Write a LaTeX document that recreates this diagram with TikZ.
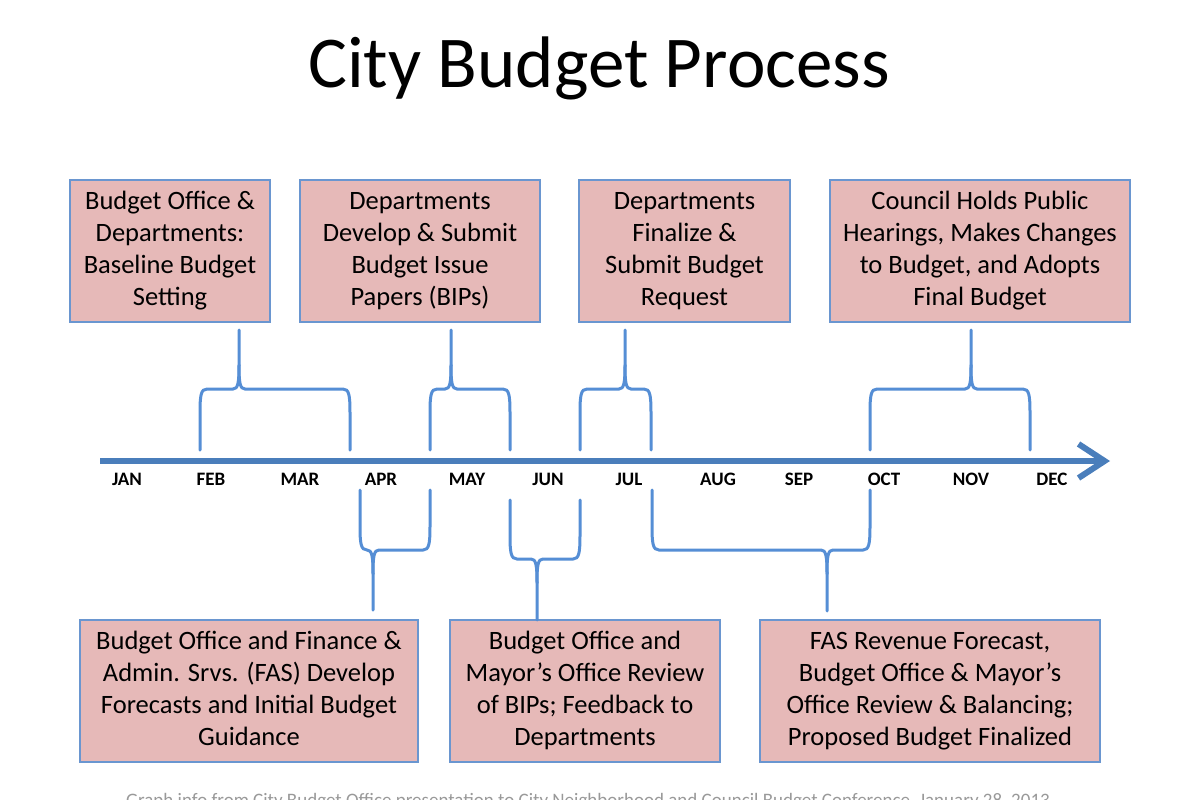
\documentclass[tikz,border=0pt]{standalone}
\usepackage{fontspec}
\setmainfont{Carlito}
\usetikzlibrary{arrows.meta}

\definecolor{boxpink}{HTML}{E6B9B8}
\definecolor{boxblue}{HTML}{6A96D0}
\definecolor{lineblue}{HTML}{4A7EBB}
\definecolor{braceblue}{HTML}{558ED5}

\tikzset{
  stagebox/.style={draw=boxblue, line width=1.3pt, fill=boxpink, align=center,
    inner sep=0pt, minimum height=142pt, font=\fontsize{26.5}{32}\selectfont},
  monthlabel/.style={font=\bfseries\fontsize{19}{21}\selectfont},
  bracket/.style={draw=braceblue, line width=3pt, line cap=round},
  timeline/.style={draw=lineblue, line width=6pt,
    -{Straight Barb[length=26pt, width=34pt, line width=6pt]}}
}

% brace: left leg, right leg, tip x, leg end y, bar y, tip y, direction (1 up / -1 down)
\newcommand{\budgetbrace}[7]{%
  \draw[bracket] (#1,#4) -- (#1,{#5+(#7)*24})
    .. controls (#1,{#5+(#7)*6}) and ({#1+1},#5) .. ({#1+7},#5) -- ({#3-6},#5)
    .. controls ({#3-1},#5) and (#3,{#5-(#7)*6}) .. (#3,{#5-(#7)*24}) -- (#3,#6);
  \draw[bracket] (#3,{#5-(#7)*24})
    .. controls (#3,{#5-(#7)*6}) and ({#3+1},#5) .. ({#3+6},#5) -- ({#2-7},#5)
    .. controls ({#2-1},#5) and (#2,{#5+(#7)*6}) .. (#2,{#5+(#7)*24}) -- (#2,#4);
}

\begin{document}
\begin{tikzpicture}[x=1pt, y=-1pt]
		\clip (0,0) rectangle (1200,800);
		\fill[white] (0,0) rectangle (1200,800);
		
		% Title
		\node[anchor=base, font=\fontsize{73}{87}\selectfont] (title) at (599,88) {City Budget Process};
		
		% Upper stages
		\node[stagebox, minimum width=200pt] (s1) at (170,251) {\strut Budget Office \&\\Departments:\\Baseline Budget\\Setting\strut};
		\node[stagebox, minimum width=240pt] (s3) at (420,251) {\strut Departments\\Develop \& Submit\\Budget Issue\\Papers (BIPs)\strut};
		\node[stagebox, minimum width=211pt] (s5) at (684.5,251) {\strut Departments\\Finalize \&\\Submit Budget\\Request\strut};
		\node[stagebox, minimum width=300pt] (s7) at (980,251) {\strut Council Holds Public\\Hearings, Makes Changes\\to Budget, and Adopts\\Final Budget\strut};
		
		% Lower stages
		\node[stagebox, minimum width=338pt] (s2) at (249,691) {\strut Budget Office and Finance \&\\Admin. Srvs. (FAS) Develop\\Forecasts and Initial Budget\\Guidance\strut};
		\node[stagebox, minimum width=270pt] (s4) at (585,691) {\strut Budget Office and\\Mayor’s Office Review\\of BIPs; Feedback to\\Departments\strut};
		\node[stagebox, minimum width=340pt] (s6) at (930,691) {\strut FAS Revenue Forecast,\\Budget Office \& Mayor’s\\Office Review \& Balancing;\\Proposed Budget Finalized\strut};
		
		% Timeline
		\coordinate (tstart) at (100,461);
		\coordinate (tend) at (1110,461);
		\draw[timeline] (tstart) -- (tend);
		\foreach \m/\x in {JAN/127, FEB/211, MAR/300, APR/381, MAY/467, JUN/548,
			JUL/629, AUG/718, SEP/799, OCT/884, NOV/971, DEC/1052}
			\node[monthlabel] (\m) at (\x,479) {\m};
		
		% Braces above the timeline
		\budgetbrace{200}{350}{239}{450}{389}{330}{1}
		\budgetbrace{430}{510}{451}{450}{389}{330}{1}
		\budgetbrace{580}{651}{625}{450}{389}{330}{1}
		\budgetbrace{870}{1030}{971}{450}{389}{330}{1}
		
		% Braces below the timeline
		\budgetbrace{360}{430}{373}{490}{550}{610}{-1}
		\budgetbrace{510}{580}{537}{500}{559}{620}{-1}
		\budgetbrace{652}{870}{827}{490}{550}{611}{-1}
		
		% Source line (cut at the lower edge)
		\node[anchor=base, text=black!40, font=\fontsize{19}{21}\selectfont] (source) at (588,806)
			{Graph info from City Budget Office presentation to City Neighborhood and Council Budget Conference, January 28, 2013};
		
	\end{tikzpicture}
\end{document}
